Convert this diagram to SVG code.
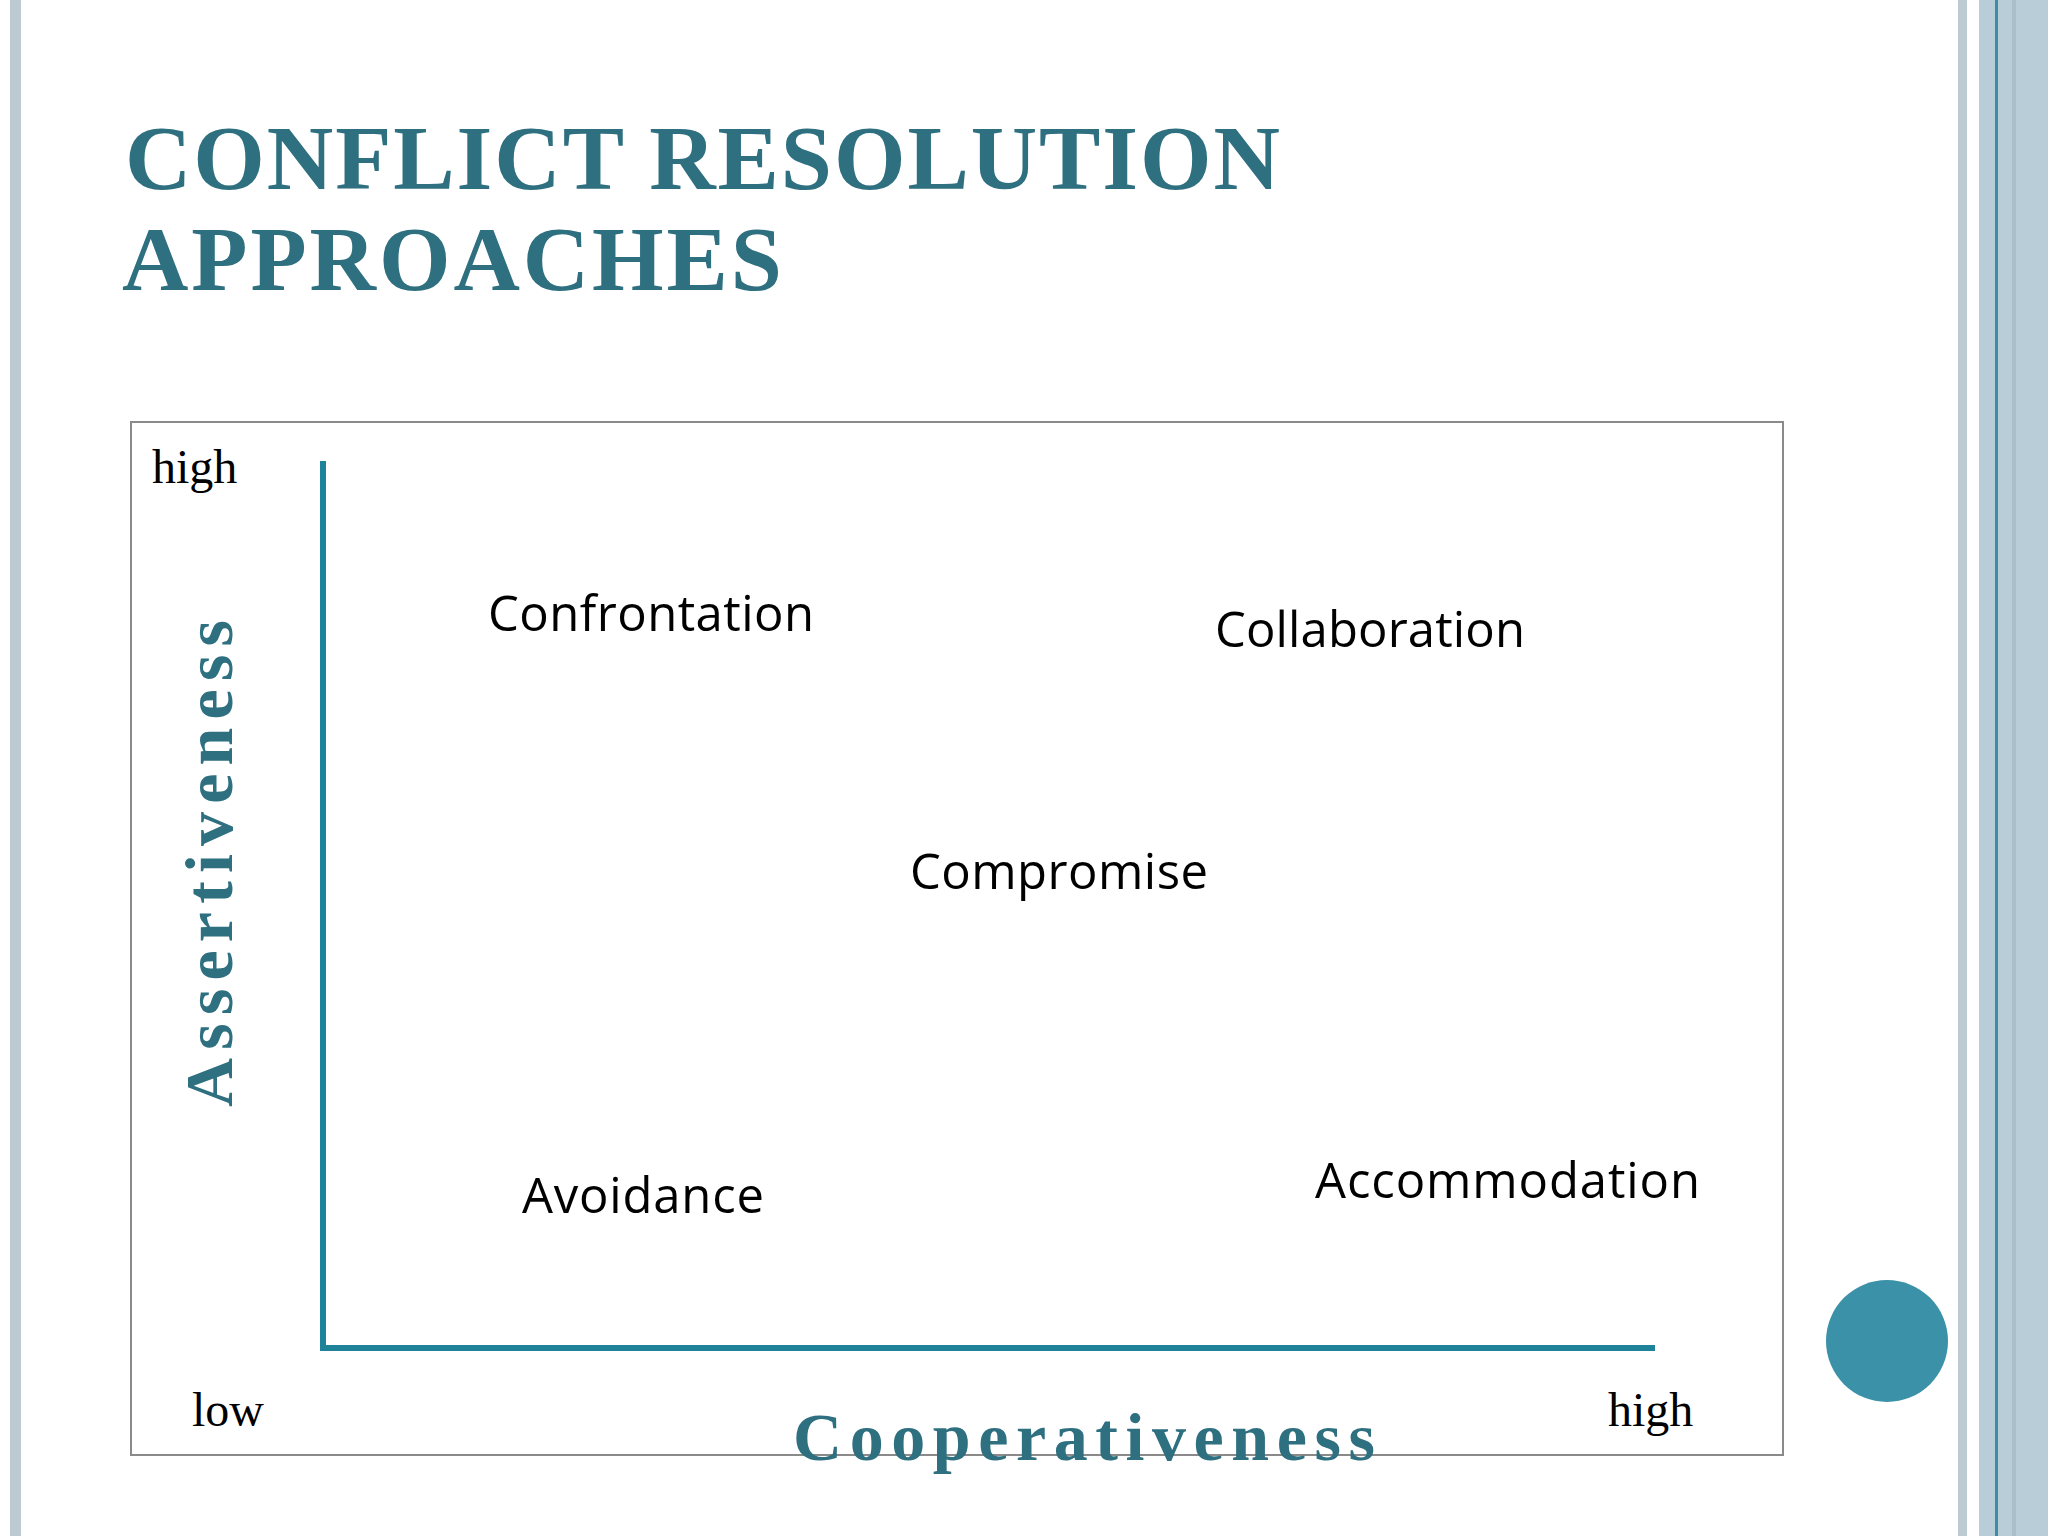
<svg xmlns="http://www.w3.org/2000/svg" width="2048" height="1536" viewBox="0 0 2048 1536">
<style>
.t{font-family:"Liberation Serif",serif;font-weight:bold;fill:#2e7080}
.ax{font-family:"Liberation Serif",serif;font-size:48px;fill:#000}
.lb{font-family:"Open Sans","Liberation Sans",sans-serif;font-size:49px;fill:#000}
.axis{stroke:#1e8399;stroke-width:6;fill:none}
</style>
<rect width="2048" height="1536" fill="#fff"/>
<rect x="10" y="0" width="11" height="1536" fill="#bccbd2"/>
<rect x="1958" y="0" width="9" height="1536" fill="#bccbd2"/>
<rect x="1979" y="0" width="69" height="1536" fill="#b9cdd8"/>
<rect x="1995" y="0" width="3" height="1536" fill="#3a8fa6"/>
<rect x="2012" y="0" width="4" height="1536" fill="#a9c0cb"/>
<circle cx="1887" cy="1341" r="61" fill="#3a91a8"/>
<text class="t" x="125" y="189" font-size="92" textLength="1155">CONFLICT RESOLUTION</text>
<text class="t" x="122" y="290" font-size="92" textLength="660">APPROACHES</text>
<rect x="131" y="422" width="1652" height="1033" fill="#fff" stroke="#8a8a8a" stroke-width="2"/>
<g id="connectors">
<line class="axis" x1="323" y1="461" x2="323" y2="1348"/>
<line class="axis" x1="320" y1="1348" x2="1655" y2="1348"/>
</g>
<text class="ax" x="152" y="483">high</text>
<text class="ax" x="192" y="1426">low</text>
<text class="ax" x="1608" y="1426">high</text>
<text class="t" x="793" y="1460" font-size="68" textLength="582">Cooperativeness</text>
<text class="t" transform="translate(232,1107) rotate(-90)" font-size="68" textLength="487">Assertiveness</text>
<g id="confrontation"><text class="lb" x="488" y="631" textLength="326">Confrontation</text></g>
<g id="collaboration"><text class="lb" x="1215" y="647" textLength="310">Collaboration</text></g>
<g id="compromise"><text class="lb" x="910" y="889" textLength="298">Compromise</text></g>
<g id="avoidance"><text class="lb" x="522" y="1213" textLength="242">Avoidance</text></g>
<g id="accommodation"><text class="lb" x="1315" y="1198" textLength="385">Accommodation</text></g>
</svg>
